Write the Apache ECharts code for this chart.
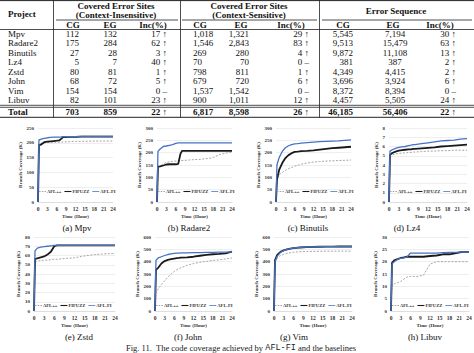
<!DOCTYPE html>
<html><head><meta charset="utf-8">
<script src="https://cdn.jsdelivr.net/npm/echarts@6/dist/echarts.min.js"></script>
<style>html,body{margin:0;padding:0;background:#fff}#c{width:474px;height:353px}</style>
</head><body><div id="c"></div>
<script>
// ---------- Table data ----------
const projects = ['Mpv','Radare2','Binutils','Lz4','Zstd','John','Vim','Libuv'];
const ciCG  = [112,175,27,5,80,68,154,82];
const ciEG  = [132,284,28,7,81,72,154,101];
const ciInc = [17,62,3,40,1,5,0,23];
const csCG  = [1018,1546,269,70,798,679,1537,900];
const csEG  = [1321,2843,280,70,811,720,1542,1011];
const csInc = [29,83,4,0,1,6,0,12];
const esCG  = [5545,9513,9872,381,4349,3696,8372,4457];
const esEG  = [7194,15479,11108,387,4415,3924,8394,5505];
const esInc = [30,63,13,2,2,6,0,24];
const ciTotal = [703,859,22];
const csTotal = [6817,8598,26];
const esTotal = [46185,56406,22];

// ---------- Chart data ----------
const seriesNames = ['AFL++','FIFUZZ','AFL-FI'];
const timeHours = [0, 0.3, 1, 2, 3, 4, 5, 6, 6.8, 7.5, 8, 10, 12, 14, 16, 18, 20, 22, 24];
const xTicks = [0,3,6,9,12,15,18,21,24];

const mpvAFLpp  = [0,196,198,200,201,202,202,202,202,202,203,204,205,205,205,206,206,206,206];
const mpvFIFUZZ = [0,192,194,202,204,205,206,207,208,214,219,220,220,221,221,221,221,221,221];
const mpvAFLFI  = [0,210,212,215,217,218,219,219,219,220,221,221,221,222,222,222,222,222,222];

const radAFLpp  = [0,140,145,155,160,163,165,166,167,168,168,170,172,173,176,180,192,198,203];
const radFIFUZZ = [0,143,144,148,152,153,153,153,155,195,207,207,207,207,207,207,207,207,207];
const radAFLFI  = [0,205,215,225,227,230,233,238,240,240,240,240,240,240,240,240,240,240,240];

const binAFLpp  = [0,95,110,120,128,135,140,145,148,151,153,158,162,164,166,167,168,169,170];
const binFIFUZZ = [0,90,130,158,178,190,198,203,204,205,206,207,209,212,215,218,220,222,224];
const binAFLFI  = [0,150,180,205,220,228,233,236,237,238,239,241,243,245,246,247,248,250,252];

const lz4AFLpp  = [0,5.0,5.1,5.2,5.25,5.3,5.3,5.35,5.35,5.4,5.4,5.45,5.5,5.5,5.55,5.55,5.6,5.6,5.6];
const lz4FIFUZZ = [0,5.1,5.3,5.45,5.55,5.6,5.65,5.7,5.7,5.75,5.75,5.8,5.85,5.9,6.0,6.05,6.1,6.15,6.2];
const lz4AFLFI  = [0,5.5,5.65,5.8,5.9,5.95,6.0,6.1,6.15,6.2,6.2,6.3,6.4,6.5,6.6,6.65,6.7,6.8,6.85];

const zstAFLpp  = [0,53,54,54.5,55,55,55.5,56,56,56,56.5,57,57.5,59,60,61,61.5,62,62];
const zstFIFUZZ = [0,56,57,58,59,61,64,70,71,71,71,71,71,71,71,71,71,71,71];
const zstAFLFI  = [0,65,68,69,69.5,70,70.5,71,71,71,71,71,71,71,71,71,71,71,71];

const johAFLpp  = [0,150,180,215,245,275,300,320,335,345,350,370,385,395,402,410,415,422,430];
const johFIFUZZ = [0,335,350,385,405,415,420,425,428,430,432,435,440,448,455,460,463,468,482];
const johAFLFI  = [0,410,430,440,450,458,463,467,469,470,471,472,473,474,475,476,477,478,480];

const vimAFLpp  = [0,390,430,450,460,468,472,476,478,480,481,482,483,484,485,485,485,485,485];
const vimFIFUZZ = [0,410,455,480,492,500,506,510,512,514,515,518,520,521,522,522,523,523,523];
const vimAFLFI  = [0,400,445,475,490,500,506,510,512,515,516,519,520,521,522,522,522,522,522];

const uvAFLpp   = [0,10.5,11,11.5,12,13,13.8,14,14,14,14,14.5,19,20,20,20,20,20,20];
const uvFIFUZZ  = [0,19.5,20.5,21,21.5,21.7,22,22,22,22,22,22,22.3,22.5,23,23,23.5,24,24];
const uvAFLFI   = [0,19,20,21,21.3,21.5,22,23.5,23.5,23.5,23.5,23.5,23.5,23.5,23.7,23.8,23.8,24,24];

const captions = ['(a) Mpv','(b) Radare2','(c) Binutils','(d) Lz4','(e) Zstd','(f) John','(g) Vim','(h) Libuv'];
const yMax = [250,300,300,8,80,600,600,30];
const yStep = [50,50,50,1,10,100,100,5];
const chartSeries = [
  [mpvAFLpp,mpvFIFUZZ,mpvAFLFI],[radAFLpp,radFIFUZZ,radAFLFI],[binAFLpp,binFIFUZZ,binAFLFI],[lz4AFLpp,lz4FIFUZZ,lz4AFLFI],
  [zstAFLpp,zstFIFUZZ,zstAFLFI],[johAFLpp,johFIFUZZ,johAFLFI],[vimAFLpp,vimFIFUZZ,vimAFLFI],[uvAFLpp,uvFIFUZZ,uvAFLFI]
];

// ---------- Layout (positions / styles) ----------
const SERIF = '"Liberation Serif","Times New Roman",serif';
const plots = [
  {l:38,r:113,t:128},{l:157,r:232,t:128},{l:276,r:351,t:128},{l:389,r:467,t:128},
  {l:34,r:115,t:237},{l:155,r:232,t:237},{l:274,r:352,t:237},{l:391,r:469,t:237}
];
const PH = 74;
const capX = [77,189,308,407,79,188,294,425];
const lineStyles = [
  {color:'#a6a6a6', width:1, type:[2,1.5]},
  {color:'#1a1a1a', width:1.8, type:'solid'},
  {color:'#4472c4', width:1.3, type:'solid'}
];
const legendIcons = [
  'path://M0,0h2v1h-2z M3.5,0h2v1h-2z M7,0h2v1h-2z',
  'path://M0,0h9v1.4h-9z',
  'path://M0,0h9v1h-9z'
];
const nameGaps = [14,14,14,9,12,14,14,11];

const grids=[], xAxes=[], yAxes=[], series=[], legends=[], graphics=[];
plots.forEach((p,i)=>{
  grids.push({left:p.l, top:p.t, width:p.r-p.l, height:PH, containLabel:false, outerBoundsMode:'none'});
  xAxes.push({type:'value', gridIndex:i, min:0, max:24, interval:3,
    name:'Time (Hour)', nameLocation:'middle', nameGap:12,
    nameTextStyle:{fontSize:5, fontWeight:'bold', fontFamily:SERIF, color:'#333'},
    axisLine:{show:true, lineStyle:{color:'#d9d9d9', width:0.8}}, axisTick:{show:false},
    splitLine:{show:false},
    axisLabel:{fontSize:5.5, fontWeight:'bold', fontFamily:SERIF, color:'#333', margin:4}});
  yAxes.push({type:'value', gridIndex:i, min:0, max:yMax[i], interval:yStep[i],
    name:'Branch Coverage (K)', nameLocation:'middle', nameGap:nameGaps[i], nameRotate:90,
    nameTextStyle:{fontSize:5, fontWeight:'bold', fontFamily:SERIF, color:'#333'},
    axisLine:{show:false}, axisTick:{show:false},
    splitLine:{show:true, lineStyle:{color:'#e3e3e3', width:0.6}},
    axisLabel:{fontSize:5, fontWeight:'bold', fontFamily:SERIF, color:'#333', margin:4}});
  chartSeries[i].forEach((vals,k)=>{
    series.push({type:'line', name:seriesNames[k], xAxisIndex:i, yAxisIndex:i,
      data: timeHours.map((t,j)=>[t, vals[j]]), symbol:'none', silent:true, animation:false,
      lineStyle:lineStyles[k], itemStyle:{color:lineStyles[k].color}, z:2+k});
  });
  legends.push({left:p.l+1, top:p.t+PH-(i<4?13:8), width:300, itemWidth:7, itemHeight:1.6, itemGap:3,
    selectedMode:false, padding:0, orient:'horizontal',
    data:seriesNames.map((n,k)=>({name:n, icon:legendIcons[k], itemStyle:{color:lineStyles[k].color}})),
    textStyle:{fontSize:4.6, fontWeight:'bold', fontFamily:SERIF, color:'#333', padding:[0,0,0,-4]}});
  graphics.push({type:'text', x:capX[i], y:(i<4?228:337),
    style:{text:captions[i], fill:'#111', font:'9px '+SERIF, textAlign:'center', textVerticalAlign:'middle', align:'center', verticalAlign:'middle'}});
});

// ---------- Table graphics ----------
function txt(x,y,s,align,bold,size){
  graphics.push({type:'text', x:x, y:y, silent:true,
    style:{text:String(s), fill:'#111', font:(bold?'bold ':'')+(size||9)+'px '+SERIF,
      textAlign:align, textVerticalAlign:'middle', align:align, verticalAlign:'middle'}});
}
function hline(x1,x2,y,w){ graphics.push({type:'line', silent:true, shape:{x1:x1,y1:y,x2:x2,y2:y}, style:{stroke:'#222', lineWidth:w||0.8}}); }
function vline(x,y1,y2){ graphics.push({type:'line', silent:true, shape:{x1:x,y1:y1,x2:x,y2:y2}, style:{stroke:'#222', lineWidth:0.8}}); }
const fmt = v => v.toLocaleString('en-US');
const incTxt = v => v + (v===0 ? ' \u2013' : ' \u2191');

const rowY0 = 34, rowDY = 9.45;
const PX = 8;
const cols = [
  [[79,'right'],[117,'right'],[167,'right']],
  [[193,'left'],[249,'right'],[309,'right']],
  [[353,'right'],[395,'center'],[456,'right']]
];
const headCX = [[73,110,153],[200,241,291],[343,393,440]];
const groupCX = [116,249,396];

hline(0,474,0.6,1);
txt(PX,14,'Project','left',true);
txt(groupCX[0],5.5,'Covered Error Sites','center',true);
txt(groupCX[0],15,'(Context-Insensitive)','center',true);
txt(groupCX[1],5.5,'Covered Error Sites','center',true);
txt(groupCX[1],15,'(Context-Sensitive)','center',true);
txt(groupCX[2],10.5,'Error Sequence','center',true);
hline(56,178,20); hline(182,317,20); hline(322,472,20);
['CG','EG','Inc(%)'].forEach((h,k)=>{ for(let g=0;g<3;g++) txt(headCX[g][k],24.5,h,'center',true); });
hline(0,474,29.5);
const groups = [[ciCG,ciEG,ciInc],[csCG,csEG,csInc],[esCG,esEG,esInc]];
projects.forEach((p,i)=>{
  const y = rowY0 + i*rowDY;
  txt(PX,y,p,'left',false);
  groups.forEach((g,gi)=>{
    txt(cols[gi][0][0],y,fmt(g[0][i]),cols[gi][0][1],false);
    txt(cols[gi][1][0],y,fmt(g[1][i]),cols[gi][1][1],false);
    txt(cols[gi][2][0],y,incTxt(g[2][i]),cols[gi][2][1],false);
  });
});
hline(0,474,105.3); hline(0,474,107.3);
const totals = [ciTotal,csTotal,esTotal];
txt(PX,111.8,'Total','left',true);
totals.forEach((t,gi)=>{
  txt(cols[gi][0][0],111.8,fmt(t[0]),cols[gi][0][1],true);
  txt(cols[gi][1][0],111.8,fmt(t[1]),cols[gi][1][1],true);
  txt(cols[gi][2][0],111.8,incTxt(t[2]),cols[gi][2][1],true);
});
hline(0,474,117.3,1);
vline(53.5,0,117.5); vline(180.5,0,117.5); vline(319.5,0,117.5);

// figure caption
graphics.push({type:'text', x:241, y:348, silent:true,
  style:{text:'Fig. 11.  The code coverage achieved by {m|AFL-FI} and the baselines',
    rich:{m:{fontFamily:'"Liberation Mono","DejaVu Sans Mono",monospace', fontSize:8.5, fill:'#222'}},
    fill:'#222', font:'8.5px '+SERIF, textAlign:'center', textVerticalAlign:'middle', align:'center', verticalAlign:'middle'}});

const chart = echarts.init(document.getElementById('c'), null, {renderer:'svg', width:474, height:353});
chart.setOption({
  animation:false, backgroundColor:'#fff',
  grid:grids, xAxis:xAxes, yAxis:yAxes, series:series, legend:legends, graphic:graphics
});
</script></body></html>
